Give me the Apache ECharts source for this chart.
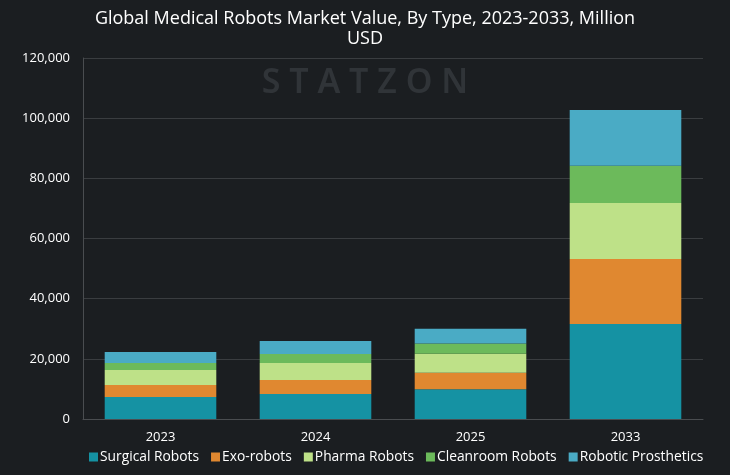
<!DOCTYPE html>
<html><head><meta charset="utf-8">
<script src="https://cdn.jsdelivr.net/npm/echarts@6/dist/echarts.min.js"></script>
<style>html,body{margin:0;padding:0;background:#1b1e21;}#c{width:730px;height:475px;}</style>
</head><body><div id="c"></div>
<script>
const categories = ['2023', '2024', '2025', '2033'];
const surgical = [7300, 8300, 9900, 31600];
const exo = [4000, 4650, 5500, 21600];
const pharma = [5000, 5650, 6300, 18600];
const cleanroom = [2300, 3000, 3400, 12400];
const prosthetics = [3650, 4300, 4900, 18500];
const seriesNames = ['Surgical Robots', 'Exo-robots', 'Pharma Robots', 'Cleanroom Robots', 'Robotic Prosthetics'];
const colors = ['#1592a3', '#e08830', '#bee188', '#6cba5b', '#4aabc5'];
const values = [surgical, exo, pharma, cleanroom, prosthetics];

const font = '"Open Sans"';
const chart = echarts.init(document.getElementById('c'));
chart.setOption({
  backgroundColor: '#1b1e21',
  color: colors,
  title: {
    text: 'Global Medical Robots Market Value, By Type, 2023-2033, Million\nUSD',
    left: 'center', top: 4,
    textStyle: { color: '#ffffff', fontSize: 18, fontWeight: 'normal', fontFamily: font, lineHeight: 20 }
  },
  graphic: [{
    type: 'text', left: 'center', top: 66, z: 0,
    style: { text: 'S T A T Z O N', fill: '#303438', font: '600 34px "Noto Sans"' }
  }],
  legend: {
    bottom: 6, left: 84, itemWidth: 9, itemHeight: 9, itemGap: 12, icon: 'rect',
    textStyle: { color: '#ffffff', fontSize: 13.8, fontFamily: font, padding: [0, 0, 0, -3] }
  },
  grid: { left: 83, right: 27, top: 58, bottom: 56 },
  xAxis: {
    type: 'category', data: categories,
    axisLine: { lineStyle: { color: '#4a4d50' } },
    axisTick: { show: false },
    axisLabel: { color: '#ffffff', fontSize: 13, fontFamily: font, margin: 12 }
  },
  yAxis: {
    type: 'value', min: 0, max: 120000, interval: 20000,
    axisLine: { show: true, lineStyle: { color: '#4a4d50' } },
    splitLine: { lineStyle: { color: '#3a3d40' } },
    axisLabel: { color: '#ffffff', fontSize: 13, fontFamily: font, margin: 13,
      formatter: v => v.toLocaleString('en-US') }
  },
  series: seriesNames.map((n, i) => ({
    name: n, type: 'bar', stack: 'total', data: values[i], barWidth: '72%'
  }))
});
</script></body></html>
